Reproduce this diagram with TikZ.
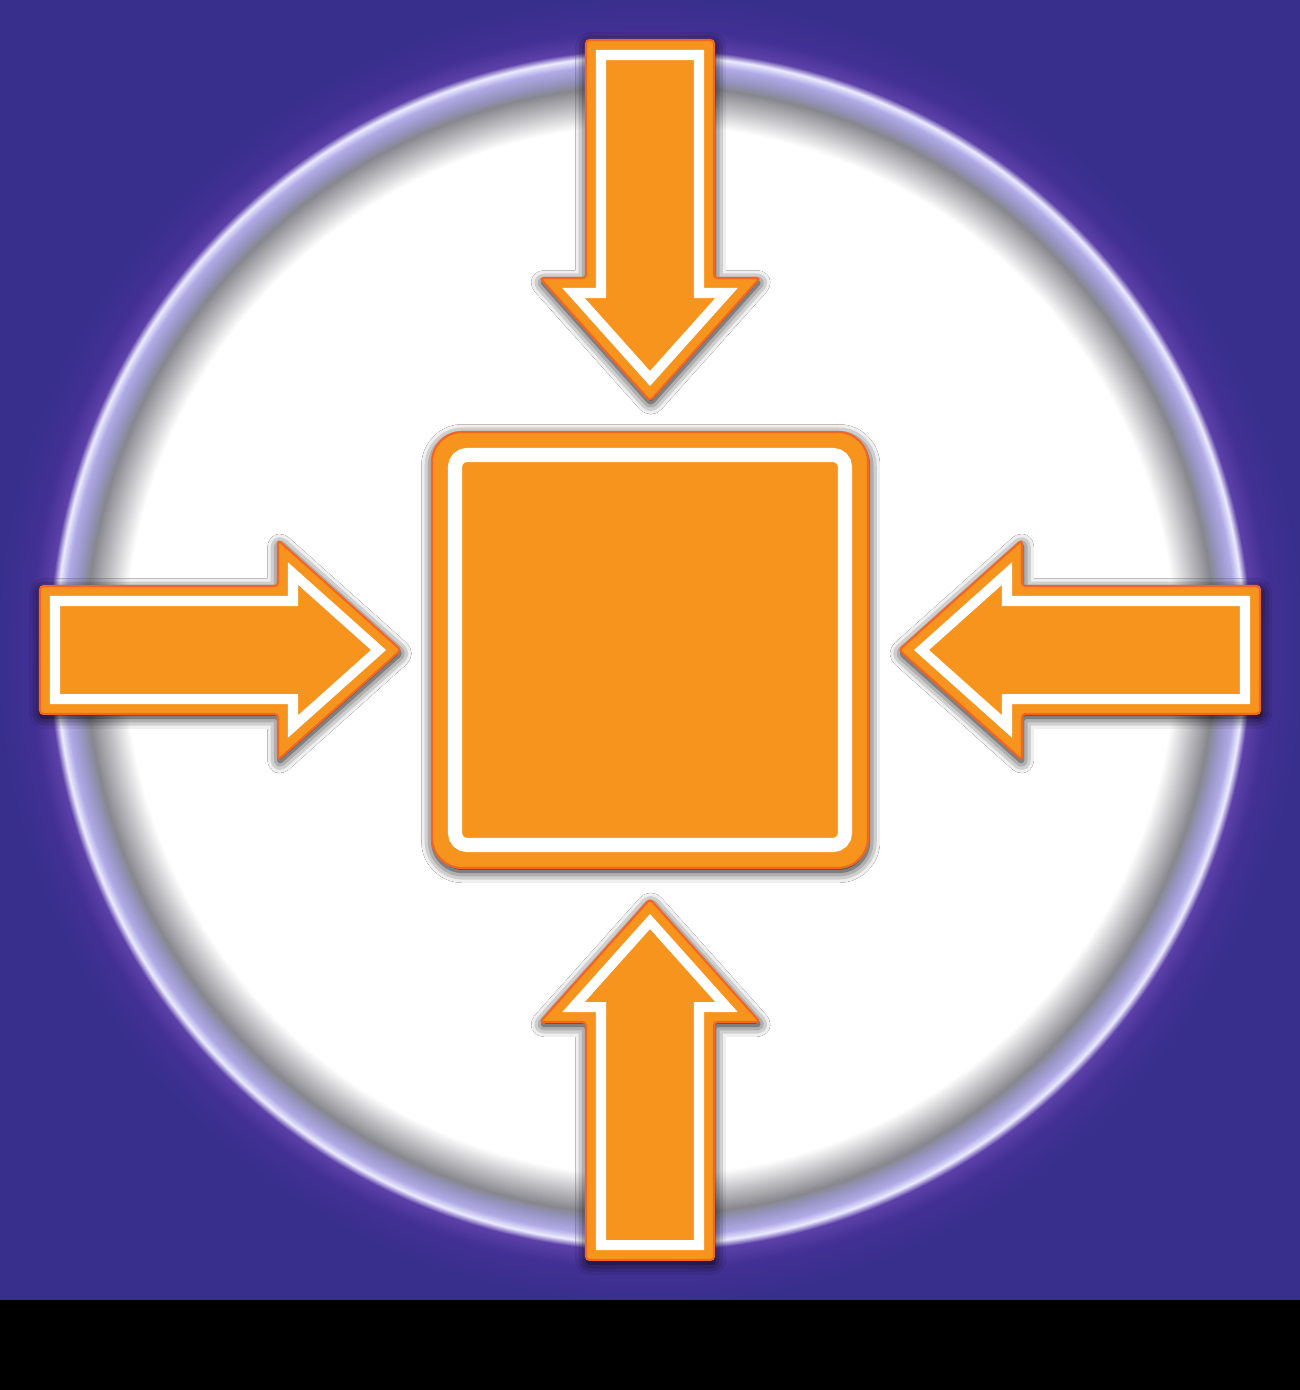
\documentclass[tikz,border=0pt]{standalone}
\usepackage{tikz}
\usetikzlibrary{shadows.blur}

\definecolor{bgblue}{RGB}{56,47,140}
\definecolor{glowpurple}{RGB}{66,48,148}
\definecolor{ringpurple}{RGB}{92,64,168}
\definecolor{ringlight}{RGB}{236,236,255}
\definecolor{ringlav}{RGB}{176,170,230}
\definecolor{ringlavgray}{RGB}{150,148,192}
\definecolor{ringgray}{RGB}{135,135,142}
\definecolor{arroworange}{RGB}{247,148,30}
\definecolor{arrowedge}{RGB}{242,101,34}

% white disc, gray rim, bright ring, purple glow
\pgfdeclareradialshading{ringglow}{\pgfpoint{0bp}{0bp}}{%
  color(0bp)=(white); color(19.3bp)=(white); color(20.75bp)=(ringgray);
  color(21.1bp)=(ringlavgray); color(21.55bp)=(ringlav); color(21.85bp)=(ringlight);
  color(22.1bp)=(ringpurple); color(22.8bp)=(glowpurple); color(24bp)=(bgblue);
  color(50bp)=(bgblue)}

\begin{document}
\begin{tikzpicture}[x=0.01cm,y=-0.01cm,
  arrowbody/.style={fill=arroworange,draw=arrowedge,line width=0.6pt,rounded corners=1pt,
    blur shadow={shadow xshift=0.2pt,shadow yshift=-1pt,shadow blur radius=3.2pt,
      shadow blur extra rounding=1pt,shadow opacity=100}},
  whiteline/.style={draw=white,line width=2.85pt,line join=miter}]

  \useasboundingbox (0,0) rectangle (1300,1390);

  % background and ring
  \fill[bgblue] (0,0) rectangle (1300,1300);
  \begin{scope}
    \clip (0,0) rectangle (1300,1300);
    \shade[shading=ringglow] (650,650) circle (680);
  \end{scope}

  % four arrows pointing in
  \foreach \ang in {0,90,180,270} {
    \begin{scope}[rotate around={\ang:(650,650)}]
      \path[arrowbody] (586,40) -- (714,40) -- (714,278) -- (760,278) -- (650,401)
        -- (540,278) -- (586,278) -- cycle;
      \draw[whiteline] (601,55) -- (699,55) -- (699,293) -- (726.5,293) -- (650,378.5)
        -- (573.5,293) -- (601,293) -- cycle;
    \end{scope}
  }

  % centre box
  \path[arrowbody,rounded corners=0.3cm] (432,432) rectangle (868,868);
  \draw[whiteline,line width=4pt,rounded corners=0.12cm] (455,455) rectangle (845,845);

  % bottom strip
  \fill[black] (0,1300) rectangle (1300,1390);
\end{tikzpicture}
\end{document}
